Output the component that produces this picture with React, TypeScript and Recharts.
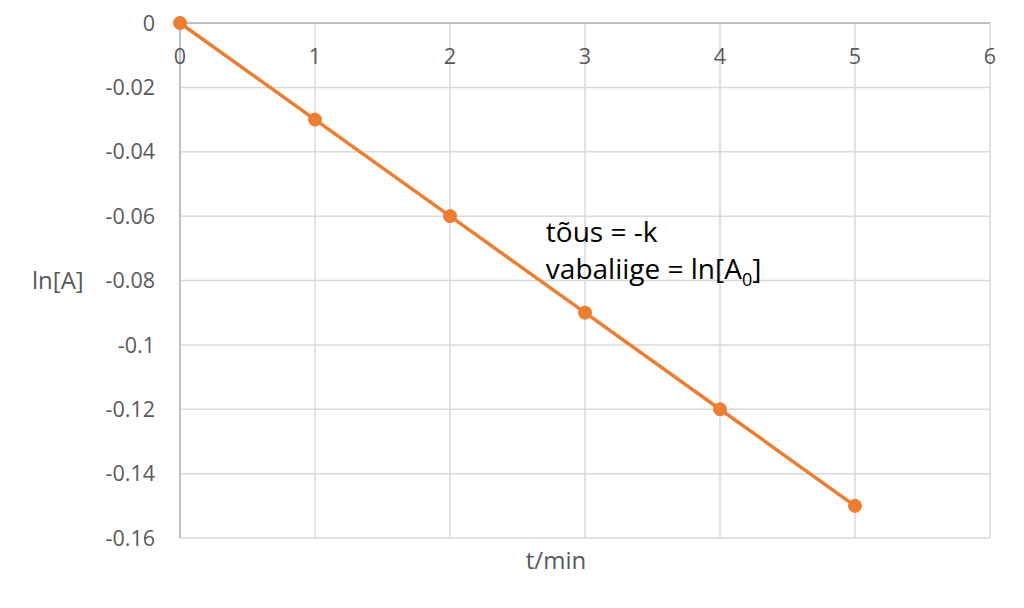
import { CartesianGrid, Label, Line, LineChart, ReferenceDot, XAxis, YAxis } from "recharts";

const times = [0, 1, 2, 3, 4, 5];
const lnA = [0, -0.03, -0.06, -0.09, -0.12, -0.15];
const xTicks = [0, 1, 2, 3, 4, 5, 6];
const yTicks = [0, -0.02, -0.04, -0.06, -0.08, -0.1, -0.12, -0.14, -0.16];

const data = times.map((t, i) => ({ t, v: lnA[i] }));

const ORANGE = "#ED7D31";
const FONT = "'Open Sans', 'Noto Sans', sans-serif";
const tickStyle = { fontSize: 21.5, fill: "#595959", fontFamily: FONT };

function Note({ viewBox }: any) {
  const x = viewBox?.x ?? 0;
  const y = viewBox?.y ?? 0;
  return (
    <text x={x} y={y} fontSize={28} fontFamily={FONT} fill="#000">
      <tspan x={x} dy={0}>tõus = -k</tspan>
      <tspan x={x} dy={37}>vabaliige = ln[A</tspan>
      <tspan fontSize={18} dy={7}>0</tspan>
      <tspan dy={-7}>]</tspan>
    </text>
  );
}

export default function App() {
  return (
    <div style={{ position: "absolute", left: 0, top: 0, background: "#fff" }}>
      <LineChart width={1024} height={608} data={data} margin={{ top: 23, right: 34, left: 0, bottom: 0 }}>
        <CartesianGrid xAxisId="top" stroke="#d9d9d9" strokeWidth={1.5} />
        <XAxis
          xAxisId="top"
          dataKey="t"
          type="number"
          orientation="top"
          domain={[0, 6]}
          ticks={xTicks}
          mirror
          height={20}
          tickLine={false}
          tickMargin={20}
          axisLine={{ stroke: "#bfbfbf", strokeWidth: 2 }}
          tick={tickStyle}
        />
        <XAxis
          xAxisId="bottom"
          dataKey="t"
          type="number"
          domain={[0, 6]}
          ticks={xTicks}
          height={70}
          tick={false}
          tickLine={false}
          axisLine={false}
        >
          <Label value="t/min" position="insideTop" offset={14} dx={-29} style={{ fontSize: 24, fill: "#595959", fontFamily: FONT }} />
        </XAxis>
        <YAxis
          type="number"
          domain={[-0.16, 0]}
          ticks={yTicks}
          width={180}
          tickLine={false}
          tickMargin={19}
          axisLine={{ stroke: "#bfbfbf", strokeWidth: 2 }}
          tick={tickStyle}
          tickFormatter={(v) => String(Number(Number(v).toFixed(2)))}
        >
          <Label value="ln[A]" position="insideLeft" offset={32} angle={0} style={{ fontSize: 24, fill: "#595959", fontFamily: FONT }} />
        </YAxis>
        <Line
          xAxisId="top"
          dataKey="v"
          type="linear"
          stroke={ORANGE}
          strokeWidth={3.5}
          dot={{ r: 6.5, fill: ORANGE, stroke: ORANGE, strokeWidth: 1 }}
          isAnimationActive={false}
        />
        <ReferenceDot xAxisId="top" x={2.71} y={-0.068} r={0} fill="none" stroke="none">
          <Label content={<Note />} />
        </ReferenceDot>
      </LineChart>
    </div>
  );
}
